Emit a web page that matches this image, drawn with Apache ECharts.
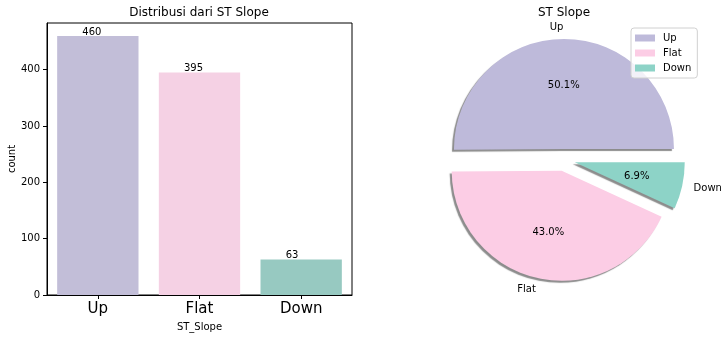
<!DOCTYPE html>
<html>
<head>
<meta charset="utf-8">
<script src="https://cdn.jsdelivr.net/npm/echarts@6/dist/echarts.min.js"></script>
<style>html,body{margin:0;padding:0;background:#fff}#c{width:727px;height:339px}</style>
</head>
<body>
<div id="c"></div>
<script>
// ---- data ----
const categories = ['Up', 'Flat', 'Down'];
const counts = [460, 395, 63];
const yTicks = [0, 100, 200, 300, 400];
const barColors = ['#c2bed8', '#f5d1e4', '#97c9c1'];
const pieColors = ['#bebada', '#fccde5', '#8dd3c7'];
const barTitle = 'Distribusi dari ST Slope';
const pieTitle = 'ST Slope';
const xAxisName = 'ST_Slope';
const yAxisName = 'count';

// ---- layout / style ----
const FONT = 'DejaVu Sans';
const PIE_CENTER = [564, 160];
const R = 110;
const EXPLODE = 11;
// horizontal alignment of outer name labels (matplotlib: right if x<0 else left)
const nameAlign = { Up: 'right', Flat: 'right', Down: 'left' };

function textWidth(s, size) {
  const c = document.createElement('canvas').getContext('2d');
  c.font = size + 'px "' + FONT + '"';
  return c.measureText(s).width;
}

const chart = echarts.init(document.getElementById('c'), null, { renderer: 'canvas' });

const sharedPie = {
  type: 'pie',
  center: PIE_CENTER,
  startAngle: 0,
  clockwise: false,
  selectedMode: 'multiple',
  selectedOffset: EXPLODE,
  avoidLabelOverlap: false,
  emphasis: { disabled: true },
  labelLine: { show: false },
  silent: true
};

const option = {
  animation: false,
  textStyle: { fontFamily: FONT },
  title: [
    { text: barTitle, left: 199, top: 7, textAlign: 'center', padding: 0,
      textStyle: { fontSize: 12, fontWeight: 'normal', color: '#000', fontFamily: FONT } },
    { text: pieTitle, left: 564, top: 7, textAlign: 'center', padding: 0,
      textStyle: { fontSize: 12, fontWeight: 'normal', color: '#000', fontFamily: FONT } }
  ],
  legend: {
    data: categories,
    orient: 'vertical',
    left: 631,
    top: 28,
    icon: 'rect',
    itemWidth: 20,
    itemHeight: 7,
    itemGap: 5,
    padding: [5, 6, 5, 4],
    borderColor: '#d0d0d0',
    borderWidth: 1,
    borderRadius: 3,
    backgroundColor: 'rgba(255,255,255,0.8)',
    itemStyle: { shadowBlur: 0, shadowOffsetX: 0, shadowOffsetY: 0, shadowColor: 'rgba(0,0,0,0)' },
    textStyle: { fontSize: 10, color: '#000', fontFamily: FONT, padding: [0, 0, 0, 3] },
    selectedMode: false
  },
  grid: { left: 47, right: 375, top: 23, bottom: 44, show: true,
          borderColor: '#000', borderWidth: 1, backgroundColor: '#fff' },
  xAxis: {
    type: 'category',
    data: categories,
    axisLine: { show: true, lineStyle: { color: '#000', width: 1 } },
    axisTick: { show: true, alignWithLabel: true, length: 4, lineStyle: { color: '#000' } },
    axisLabel: { fontSize: 15, color: '#000', margin: 7, fontFamily: FONT },
    name: xAxisName,
    nameLocation: 'middle',
    nameGap: 27,
    nameTextStyle: { fontSize: 10, color: '#000', fontFamily: FONT }
  },
  yAxis: {
    type: 'value',
    min: 0,
    max: Math.max(...counts) * 1.05,
    interval: yTicks[1] - yTicks[0],
    splitLine: { show: false },
    axisLine: { show: true, lineStyle: { color: '#000', width: 1 } },
    axisTick: { show: true, length: 4, lineStyle: { color: '#000' } },
    axisLabel: { fontSize: 10, color: '#000', margin: 7, showMaxLabel: false, fontFamily: FONT,
                 formatter: v => (yTicks.indexOf(v) >= 0 ? String(v) : '') },
    name: yAxisName,
    nameLocation: 'middle',
    nameGap: 30,
    nameTextStyle: { fontSize: 10, color: '#000', fontFamily: FONT }
  },
  series: [
    {
      type: 'bar',
      data: counts.map((v, i) => ({ value: v, itemStyle: { color: barColors[i] } })),
      barCategoryGap: '20%',
      label: {
        show: true, position: 'top', distance: 0, align: 'left', offset: [-15.5, 1],
        fontSize: 10, color: '#000', fontFamily: FONT
      },
      emphasis: { disabled: true },
      silent: true
    },
    Object.assign({}, sharedPie, {
      name: 'pie',
      radius: [0, R],
      data: categories.map((c, i) => ({ name: c, value: counts[i], selected: true,
                                         itemStyle: { color: pieColors[i] } })),
      itemStyle: { shadowBlur: 1, shadowOffsetX: -2, shadowOffsetY: 2,
                   shadowColor: 'rgba(0,0,0,0.45)', borderWidth: 0 },
      label: { show: false }
    }),
    Object.assign({}, sharedPie, {
      name: 'pct',
      radius: [R * 0.1, R],
      data: categories.map((c, i) => ({ name: c, value: counts[i], selected: true })),
      itemStyle: { color: 'rgba(0,0,0,0)', borderWidth: 0 },
      label: { show: true, position: 'inside', fontSize: 10, color: '#000', fontFamily: FONT,
               formatter: p => p.percent.toFixed(1) + '%' }
    }),
    Object.assign({}, sharedPie, {
      name: 'names',
      radius: [R * 0.96, R * 1.2],
      data: categories.map((c, i) => {
        const w = Math.round(textWidth(c, 10));
        const pad = nameAlign[c] === 'right' ? [0, w, 0, 0] : [0, 0, 0, w];
        return { name: c, value: counts[i], selected: true, label: { padding: pad } };
      }),
      itemStyle: { color: 'rgba(0,0,0,0)', borderWidth: 0 },
      label: { show: true, position: 'inside', fontSize: 10, color: '#000', fontFamily: FONT,
               formatter: '{b}' }
    })
  ]
};
chart.setOption(option);
</script>
</body>
</html>
